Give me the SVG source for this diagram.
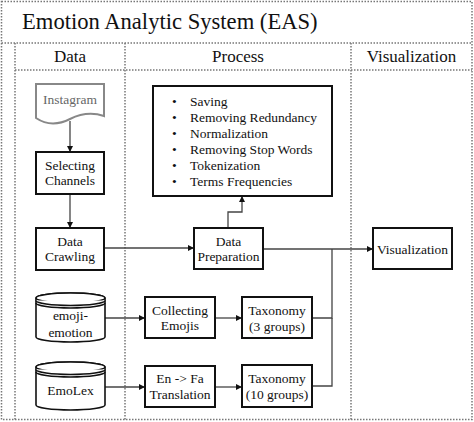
<svg xmlns="http://www.w3.org/2000/svg" width="474" height="422" viewBox="0 0 474 422" font-family="'Liberation Serif', serif">
<defs>
<style>
.frame{fill:none;stroke:#777;stroke-width:1.5;stroke-dasharray:1.5 1.5}
.box{fill:#fff;stroke:#111;stroke-width:2}
.doc{fill:#fff;stroke:#888;stroke-width:2}
.cyl{fill:#fff;stroke:#111;stroke-width:1.6}
.conn{fill:none;stroke:#444;stroke-width:1.3}
.t{font-size:13.5px;text-anchor:middle;fill:#111}
.h{font-size:17px;text-anchor:middle;fill:#111}
.b{font-size:13.5px;fill:#111}
</style>
<marker id="ah" viewBox="0 0 8 8" refX="8" refY="4" markerWidth="6" markerHeight="6" markerUnits="userSpaceOnUse" orient="auto">
<path d="M0,0 L8,4 L0,8 Z" fill="#111"/>
</marker>
</defs>
<rect x="0" y="0" width="474" height="422" fill="#fff"/>
<g id="frame" font-family="'Liberation Serif', serif">
<rect class="frame" x="1.5" y="1.5" width="470.5" height="418"/>
<line class="frame" x1="1.5" y1="43" x2="472" y2="43"/>
<line class="frame" x1="15" y1="70" x2="472" y2="70"/>
<line class="frame" x1="15" y1="43" x2="15" y2="420"/>
<line class="frame" x1="125" y1="43" x2="125" y2="420"/>
<line class="frame" x1="351" y1="43" x2="351" y2="420"/>
<text x="22" y="29" font-size="22.6" fill="#111">Emotion Analytic System (EAS)</text>
<text class="h" x="70" y="62">Data</text>
<text class="h" x="238" y="62">Process</text>
<text class="h" x="411.5" y="62">Visualization</text>
</g>
<g id="connectors">
<line class="conn" x1="70" y1="121" x2="70" y2="152" marker-end="url(#ah)"/>
<line class="conn" x1="70" y1="194" x2="70" y2="228" marker-end="url(#ah)"/>
<line class="conn" x1="104" y1="248" x2="194" y2="248" marker-end="url(#ah)"/>
<polyline class="conn" points="228,228 228,212 242,212 242,196" marker-end="url(#ah)"/>
<line class="conn" x1="263" y1="249" x2="373" y2="249" marker-end="url(#ah)"/>
<polyline class="conn" points="312,318 332,318 332,249"/>
<polyline class="conn" points="312,386 332,386 332,318"/>
<line class="conn" x1="105" y1="318" x2="145" y2="318" marker-end="url(#ah)"/>
<line class="conn" x1="105" y1="387" x2="145" y2="387" marker-end="url(#ah)"/>
<line class="conn" x1="215" y1="318" x2="242" y2="318" marker-end="url(#ah)"/>
<line class="conn" x1="215" y1="387" x2="242" y2="387" marker-end="url(#ah)"/>
</g>
<g id="instagram" font-family="'Liberation Serif', serif">
<path class="doc" d="M36,84 H104 V116 C92,112 80,114 70,119 C60,124 48,126 36,118 Z"/>
<text class="t" x="70" y="104" style="fill:#666">Instagram</text>
</g>
<g id="selecting-channels" font-family="'Liberation Serif', serif">
<rect class="box" x="36" y="152" width="68" height="42"/>
<text class="t" x="70" y="169.5">Selecting</text>
<text class="t" x="70" y="185">Channels</text>
</g>
<g id="data-crawling" font-family="'Liberation Serif', serif">
<rect class="box" x="36" y="228" width="68" height="42"/>
<text class="t" x="70" y="245.5">Data</text>
<text class="t" x="70" y="261">Crawling</text>
</g>
<g id="steps" font-family="'Liberation Serif', serif">
<rect class="box" x="153" y="86" width="179" height="110"/>
<g class="b">
<text x="172" y="105.5">•</text><text x="190" y="105.5">Saving</text>
<text x="172" y="121.5">•</text><text x="190" y="121.5">Removing Redundancy</text>
<text x="172" y="137.5">•</text><text x="190" y="137.5">Normalization</text>
<text x="172" y="153.5">•</text><text x="190" y="153.5">Removing Stop Words</text>
<text x="172" y="169.5">•</text><text x="190" y="169.5">Tokenization</text>
<text x="172" y="185.5">•</text><text x="190" y="185.5">Terms Frequencies</text>
</g>
</g>
<g id="data-preparation" font-family="'Liberation Serif', serif">
<rect class="box" x="194" y="228" width="69" height="41"/>
<text class="t" x="228.5" y="245.5">Data</text>
<text class="t" x="228.5" y="261">Preparation</text>
</g>
<g id="visualization" font-family="'Liberation Serif', serif">
<rect class="box" x="373" y="228" width="79" height="41"/>
<text class="t" x="412.5" y="253.5">Visualization</text>
</g>
<g id="emoji-emotion" font-family="'Liberation Serif', serif">
<path class="cyl" d="M36,298 A34.5,5 0 0 1 105,298 V337 A34.5,5 0 0 1 36,337 Z"/>
<ellipse class="cyl" cx="70.5" cy="298" rx="34.5" ry="5"/>
<path class="cyl" fill="none" d="M36,300.5 A34.5,5 0 0 0 105,300.5 M36,303 A34.5,5 0 0 0 105,303"/>
<text class="t" x="70.5" y="320">emoji-</text>
<text class="t" x="70.5" y="336.5">emotion</text>
</g>
<g id="emolex" font-family="'Liberation Serif', serif">
<path class="cyl" d="M36,367 A34.5,5 0 0 1 105,367 V405 A34.5,5 0 0 1 36,405 Z"/>
<ellipse class="cyl" cx="70.5" cy="367" rx="34.5" ry="5"/>
<path class="cyl" fill="none" d="M36,369.5 A34.5,5 0 0 0 105,369.5 M36,372 A34.5,5 0 0 0 105,372"/>
<text class="t" x="70.5" y="394.5">EmoLex</text>
</g>
<g id="collecting-emojis" font-family="'Liberation Serif', serif">
<rect class="box" x="145" y="297" width="70" height="41"/>
<text class="t" x="180" y="314.5">Collecting</text>
<text class="t" x="180" y="330">Emojis</text>
</g>
<g id="translation" font-family="'Liberation Serif', serif">
<rect class="box" x="145" y="366" width="70" height="41"/>
<text class="t" x="180" y="382.5">En -&gt; Fa</text>
<text class="t" x="180" y="398.5">Translation</text>
</g>
<g id="taxonomy-3" font-family="'Liberation Serif', serif">
<rect class="box" x="242" y="297" width="70" height="41"/>
<text class="t" x="277" y="314.5">Taxonomy</text>
<text class="t" x="277" y="331">(3 groups)</text>
</g>
<g id="taxonomy-10" font-family="'Liberation Serif', serif">
<rect class="box" x="242" y="365" width="70" height="42"/>
<text class="t" x="277" y="382.5">Taxonomy</text>
<text class="t" x="277" y="399">(10 groups)</text>
</g>
</svg>
